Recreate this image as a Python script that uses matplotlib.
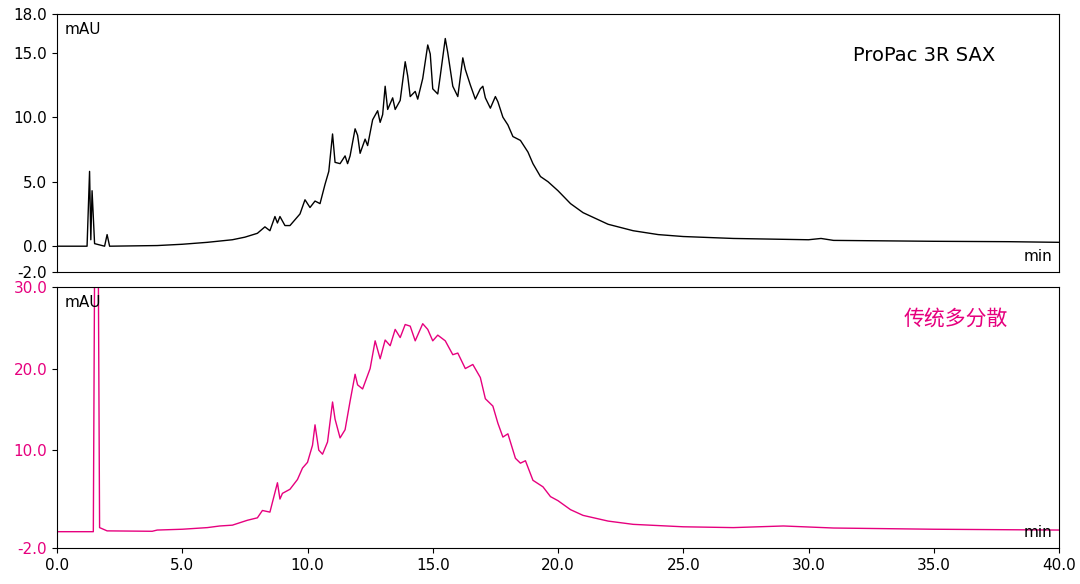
import matplotlib
matplotlib.use("Agg")
import matplotlib.pyplot as plt
import numpy as np

top_t = [0,1.2,1.3,1.35,1.4,1.5,1.9,2.0,2.1,4,5,6,7,7.5,8,8.3,8.5,8.7,8.8,8.9,9.1,9.3,9.7,9.9,10.1,10.3,10.5,10.7,10.85,11.0,11.1,11.3,11.5,11.6,11.7,11.9,12.0,12.1,12.3,12.4,12.6,12.8,12.9,13.0,13.1,13.2,13.4,13.5,13.7,13.9,14.0,14.1,14.3,14.4,14.6,14.8,14.9,15.0,15.2,15.3,15.5,15.6,15.8,16.0,16.2,16.3,16.5,16.7,16.9,17.0,17.1,17.3,17.5,17.6,17.8,18.0,18.2,18.5,18.8,19.0,19.3,19.6,20,20.5,21,22,23,24,25,27,30,30.5,31,35,38,40]
top_v = [0,0,5.8,0.5,4.3,0.2,0,0.9,0,0.05,0.15,0.3,0.5,0.7,1.0,1.5,1.2,2.3,1.8,2.3,1.6,1.6,2.5,3.6,3.0,3.5,3.3,4.8,5.8,8.7,6.5,6.4,7.0,6.4,7.0,9.1,8.6,7.2,8.3,7.8,9.8,10.5,9.6,10.2,12.4,10.6,11.5,10.6,11.3,14.3,13.2,11.6,12.0,11.4,13.0,15.6,14.9,12.2,11.8,13.2,16.1,15.0,12.4,11.6,14.6,13.7,12.5,11.4,12.2,12.4,11.5,10.7,11.6,11.2,10.0,9.4,8.5,8.2,7.3,6.4,5.4,5.0,4.3,3.3,2.6,1.7,1.2,0.9,0.75,0.6,0.5,0.6,0.45,0.38,0.35,0.3]

bot_t = [0,1.45,1.5,1.65,1.7,2,3.8,4,5,6,6.5,7,7.4,7.6,8,8.2,8.5,8.8,8.9,9.0,9.3,9.6,9.8,10.0,10.2,10.3,10.45,10.6,10.8,11.0,11.1,11.3,11.5,11.7,11.9,12.0,12.2,12.5,12.7,12.9,13.1,13.3,13.5,13.7,13.9,14.1,14.3,14.6,14.8,15.0,15.2,15.5,15.8,16.0,16.3,16.6,16.9,17.1,17.4,17.6,17.8,18.0,18.3,18.5,18.7,19.0,19.4,19.7,20.0,20.5,21,22,23,25,27,29,31,35,40]
bot_v = [0,0,32,32,0.5,0.1,0.05,0.2,0.3,0.5,0.7,0.8,1.2,1.4,1.7,2.6,2.4,6.0,4.0,4.7,5.2,6.4,7.8,8.5,10.6,13.1,10.0,9.5,11.0,15.9,13.8,11.5,12.5,16.0,19.3,18.0,17.5,20.0,23.4,21.2,23.5,22.8,24.8,23.8,25.4,25.2,23.4,25.5,24.8,23.4,24.1,23.4,21.7,21.9,20.0,20.5,18.9,16.3,15.4,13.3,11.6,12.0,9.0,8.4,8.7,6.3,5.5,4.3,3.8,2.7,2.0,1.3,0.9,0.6,0.5,0.7,0.45,0.3,0.2]

MAG = "#E6007E"
fig = plt.figure(figsize=(10.8, 5.84), dpi=100)
ax1 = fig.add_axes([57/1080, 1-272/584, 1002/1080, 258/584])
ax2 = fig.add_axes([57/1080, 1-548/584, 1002/1080, 261/584])

ax1.plot(top_t, top_v, color="black", lw=1.0)
ax1.set_xlim(0, 40); ax1.set_ylim(-2, 18)
ax1.set_yticks([-2, 0, 5, 10, 15, 18])
ax1.set_yticklabels(["-2.0", "0.0", "5.0", "10.0", "15.0", "18.0"])
ax1.set_xticks(np.arange(0, 41, 5)); ax1.set_xticklabels([])
ax1.tick_params(axis="x", length=0)
ax1.text(0.008, 0.97, "mAU", transform=ax1.transAxes, ha="left", va="top", fontsize=11)
ax1.text(0.993, 0.03, "min", transform=ax1.transAxes, ha="right", va="bottom", fontsize=11)
ax1.text(0.865, 0.84, "ProPac 3R SAX", transform=ax1.transAxes, ha="center", va="center", fontsize=14)

ax2.plot(bot_t, bot_v, color=MAG, lw=1.0)
ax2.set_xlim(0, 40); ax2.set_ylim(-2, 30)
ax2.set_yticks([-2, 10, 20, 30])
ax2.set_yticklabels(["-2.0", "10.0", "20.0", "30.0"], color=MAG)
ax2.set_xticks(np.arange(0, 41, 5))
ax2.set_xticklabels([f"{v:.1f}" for v in np.arange(0, 41, 5)])
ax2.text(0.008, 0.97, "mAU", transform=ax2.transAxes, ha="left", va="top", fontsize=11)
ax2.text(0.993, 0.03, "min", transform=ax2.transAxes, ha="right", va="bottom", fontsize=11)
ax2.text(0.897, 0.88, "传统多分散", transform=ax2.transAxes, ha="center", va="center",
         fontsize=15, color=MAG, family=["Noto Sans CJK SC", "DejaVu Sans"])

for ax in (ax1, ax2):
    ax.tick_params(labelsize=11, direction="out")
    for s in ax.spines.values():
        s.set_linewidth(0.8)

fig.savefig("out.png", dpi=100)
